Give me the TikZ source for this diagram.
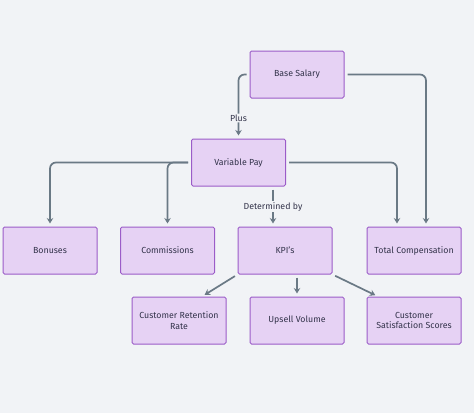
\documentclass[tikz,border=0pt]{standalone}
\usepackage{fontspec}
\setsansfont{Fira Sans}
\usetikzlibrary{arrows.meta}

\definecolor{bgcol}{HTML}{F1F3F6}
\definecolor{boxfill}{HTML}{E6D2F4}
\definecolor{boxline}{HTML}{9B5CC8}
\definecolor{linecol}{HTML}{6A7985}
\definecolor{txtcol}{HTML}{33334A}

\tikzset{%
  % Specifications for style of nodes:
         base/.style =  { rectangle, rounded corners=1.5pt, draw = boxline, fill = boxfill, line width=1pt, minimum width=94pt, minimum height=47pt, inner sep=2pt, align=center, text=txtcol, font=\sffamily\fontsize{8.8}{10.8}\selectfont },
         link/.style =  { draw = linecol, line width=1.7pt, rounded corners=6pt, shorten <=3pt, shorten >=3pt, -{Stealth[length=5.5pt, width=6.5pt]} },
         lbl/.style =   { fill=bgcol, inner sep=1pt, text=txtcol, font=\sffamily\fontsize{8.8}{10.8}\selectfont },
}

\begin{document}
\begin{tikzpicture}[x=1pt, y=-1pt]
    % Background
    \fill[bgcol] (0,0) rectangle (474,413);

    % Draw nodes
    \node (salary)      [base] at (297,74.5)    {Base Salary};
    \node (varpay)      [base] at (238.5,162.5) {Variable Pay};
    \node (bonuses)     [base] at (50,250.5)    {Bonuses};
    \node (commissions) [base] at (167.5,250.5) {Commissions};
    \node (kpis)        [base] at (285,250.5)   {KPI's};
    \node (total)       [base] at (414,250.5)   {Total Compensation};
    \node (retention)   [base] at (179,320.5)   {Customer Retention\\Rate};
    \node (upsell)      [base] at (297,320.5)   {Upsell Volume};
    \node (satisfy)     [base] at (414,320.5)   {Customer\\Satisfaction Scores};

    % Draw arrows
    \draw[link] (salary.west) -| (varpay.north) node[lbl, pos=0.84] {Plus};
    \draw[link] (salary.east) -| ([xshift=12pt]total.north);
    \draw[link] (varpay.west) -| (bonuses.north);
    \draw[link] (varpay.west) -| (commissions.north);
    \draw[link] (varpay.east) -| ([xshift=-17pt]total.north);
    \draw[link] ([xshift=34.5pt]varpay.south) -- ([xshift=-12pt]kpis.north) node[lbl, midway] {Determined by};

    \draw[link] (kpis.south west) -- ([xshift=23pt]retention.north);
    \draw[link] ([xshift=12pt]kpis.south) -- (upsell.north);
    \draw[link] (kpis.south east) -- ([xshift=-36pt]satisfy.north);
\end{tikzpicture}
\end{document}
